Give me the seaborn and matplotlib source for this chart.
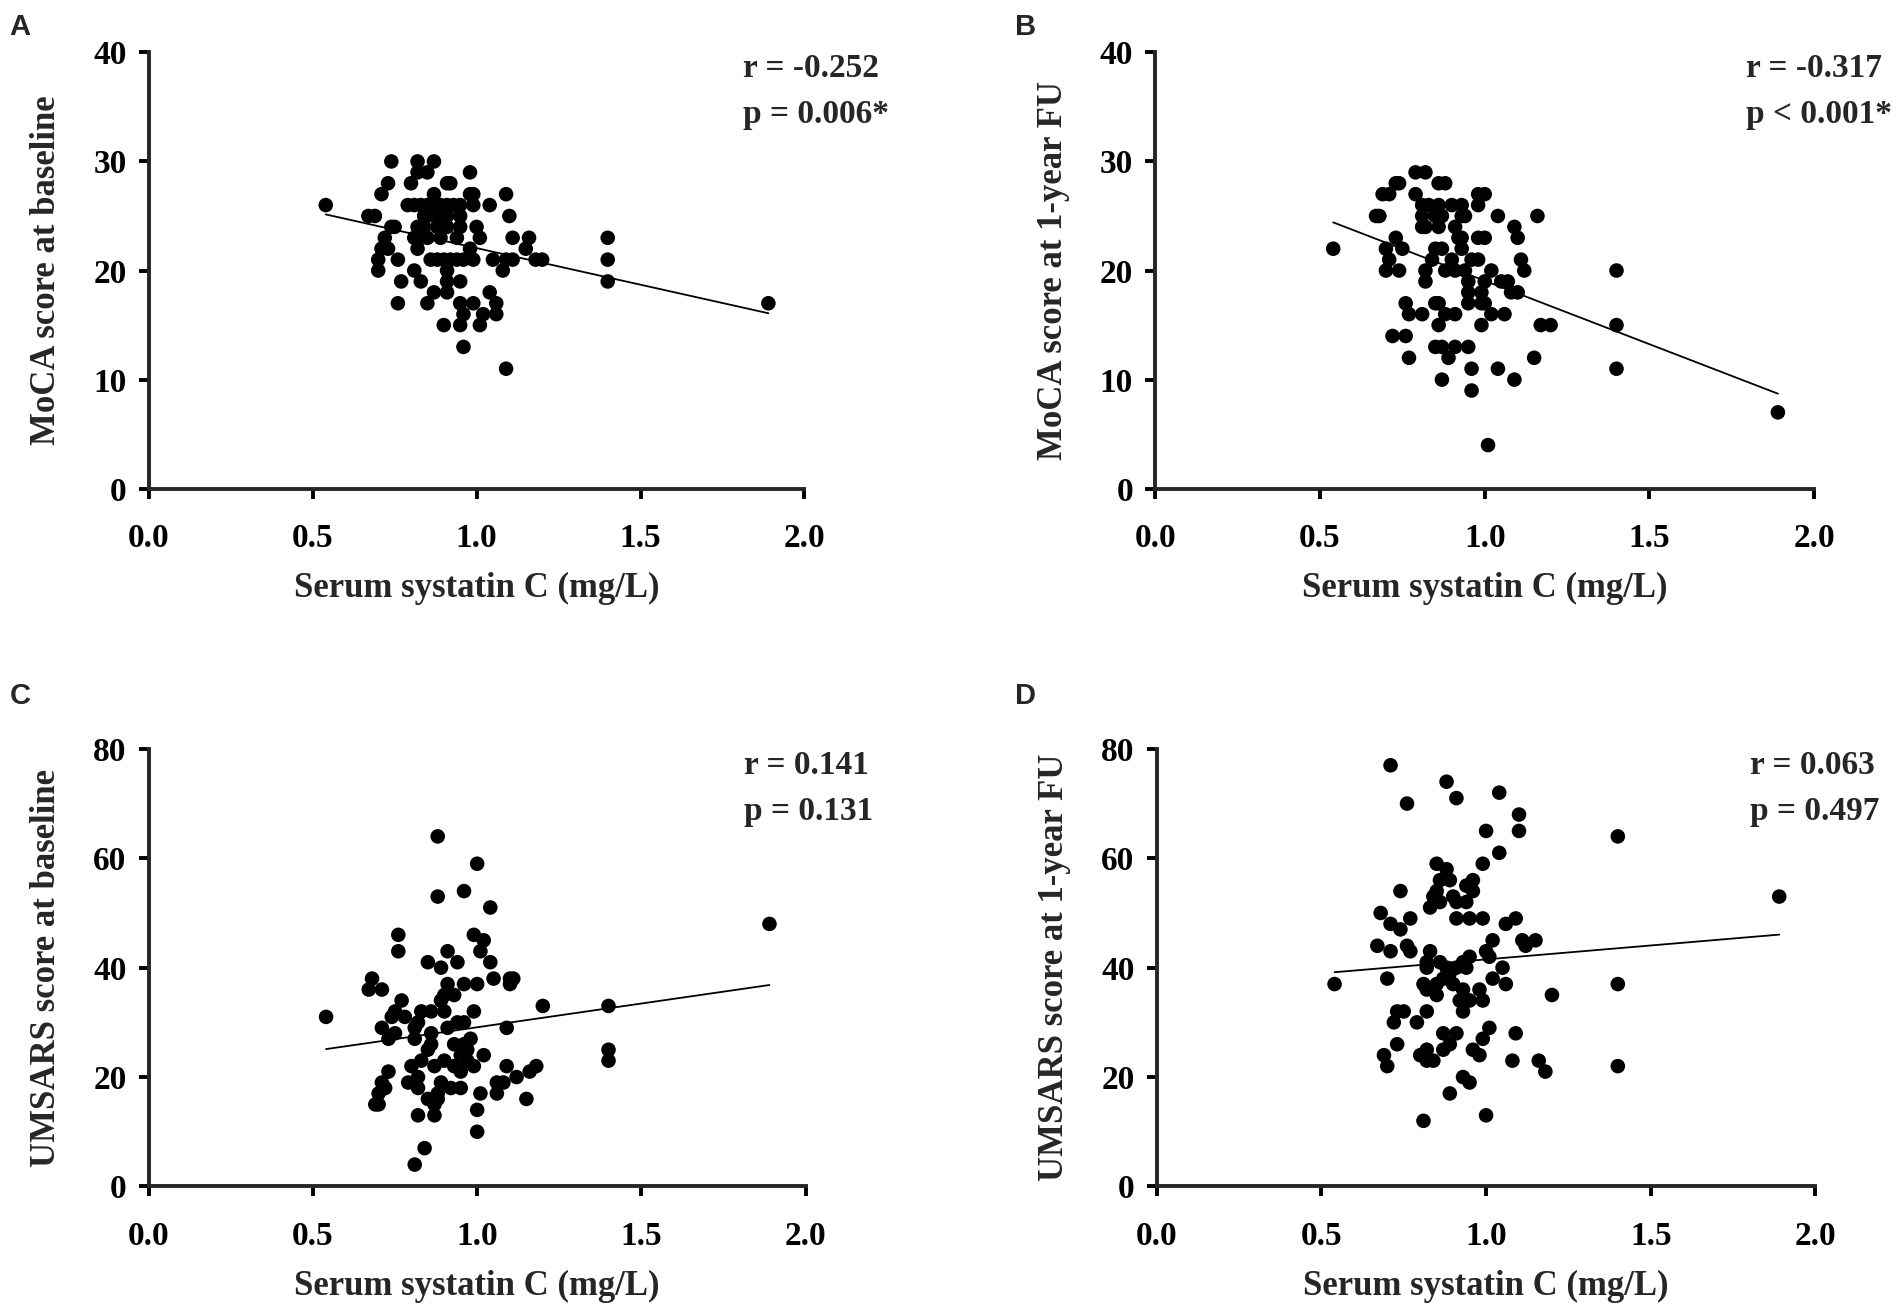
import matplotlib
matplotlib.use("Agg")
import matplotlib.pyplot as plt
import seaborn as sns
import pandas as pd

# Panel A: serum cystatin C vs MoCA at baseline
cys_a = [0.74, 0.82, 0.87,
         0.82, 0.85, 0.98,
         0.73, 0.80, 0.91, 0.92,
         0.71, 0.87, 0.98, 0.99, 1.09,
         0.54, 0.79, 0.81, 0.83, 0.85, 0.87, 0.89, 0.91, 0.93, 0.95, 0.99, 1.04,
         0.67, 0.69, 0.84, 0.85, 0.88, 0.91, 0.95, 1.10,
         0.74, 0.75, 0.82, 0.84, 0.88, 0.91, 0.95, 1.00,
         0.72, 0.81, 0.83, 0.85, 0.89, 0.94, 1.01, 1.11, 1.16, 1.40,
         0.71, 0.73, 0.82, 0.98, 1.15,
         0.70, 0.76, 0.86, 0.88, 0.90, 0.92, 0.94, 0.96, 0.99, 1.05, 1.09, 1.11, 1.18, 1.20, 1.40,
         0.70, 0.81, 0.91, 1.08,
         0.77, 0.83, 0.91, 0.95, 1.40,
         0.87, 0.91, 1.04,
         0.76, 0.85, 0.95, 0.99, 1.06, 1.89,
         0.96, 1.02, 1.06,
         0.90, 0.95, 1.01,
         0.96,
         1.09]
moca_base = [30, 30, 30,
             29, 29, 29,
             28, 28, 28, 28,
             27, 27, 27, 27, 27,
             26, 26, 26, 26, 26, 26, 26, 26, 26, 26, 26, 26,
             25, 25, 25, 25, 25, 25, 25, 25,
             24, 24, 24, 24, 24, 24, 24, 24,
             23, 23, 23, 23, 23, 23, 23, 23, 23, 23,
             22, 22, 22, 22, 22,
             21, 21, 21, 21, 21, 21, 21, 21, 21, 21, 21, 21, 21, 21, 21,
             20, 20, 20, 20,
             19, 19, 19, 19, 19,
             18, 18, 18,
             17, 17, 17, 17, 17, 17,
             16, 16, 16,
             15, 15, 15,
             13,
             11]

# Panel B: serum cystatin C vs MoCA at 1-year FU
cys_b = [0.79, 0.82,
         0.73, 0.74, 0.86, 0.88,
         0.69, 0.71, 0.79, 0.98, 1.00,
         0.81, 0.83, 0.86, 0.90, 0.93, 0.98,
         0.67, 0.68, 0.81, 0.85, 0.87, 0.93, 0.94, 1.04, 1.16,
         0.81, 0.82, 0.86, 0.91, 1.09,
         0.73, 0.92, 0.93, 0.98, 1.00, 1.10,
         0.54, 0.70, 0.75, 0.85, 0.87, 0.93,
         0.71, 0.84, 0.90, 0.96, 0.98, 1.11,
         0.70, 0.74, 0.82, 0.88, 0.91, 0.94, 1.02, 1.12, 1.40,
         0.82, 0.95, 1.00, 1.05, 1.07,
         0.95, 0.99, 1.08, 1.10,
         0.76, 0.85, 0.86, 0.95, 0.99, 1.00,
         0.77, 0.81, 0.88, 0.91, 1.02, 1.06,
         0.86, 0.99, 1.17, 1.20, 1.40,
         0.72, 0.76,
         0.85, 0.87, 0.91, 0.95,
         0.77, 0.89, 1.15,
         0.96, 1.04, 1.40,
         0.87, 1.09,
         0.96,
         1.89,
         1.01]
moca_fu = [29, 29,
           28, 28, 28, 28,
           27, 27, 27, 27, 27,
           26, 26, 26, 26, 26, 26,
           25, 25, 25, 25, 25, 25, 25, 25, 25,
           24, 24, 24, 24, 24,
           23, 23, 23, 23, 23, 23,
           22, 22, 22, 22, 22, 22,
           21, 21, 21, 21, 21, 21,
           20, 20, 20, 20, 20, 20, 20, 20, 20,
           19, 19, 19, 19, 19,
           18, 18, 18, 18,
           17, 17, 17, 17, 17, 17,
           16, 16, 16, 16, 16, 16,
           15, 15, 15, 15, 15,
           14, 14,
           13, 13, 13, 13,
           12, 12, 12,
           11, 11, 11,
           10, 10,
           9,
           7,
           4]

# Panel C: serum cystatin C vs UMSARS at baseline
cys_c = [0.88, 1.00, 0.88, 0.96, 1.04, 0.76, 0.76, 0.99, 1.02, 1.01,
         0.91, 0.85, 0.89, 0.94, 1.04, 0.68, 0.67, 0.71, 0.91, 0.96,
         1.00, 1.05, 1.10, 1.11, 1.10, 0.77, 0.89, 0.93, 0.90, 1.20,
         1.40, 0.75, 0.78, 0.74, 0.83, 0.86, 0.90, 0.99, 0.82, 0.94,
         0.96, 0.91, 0.71, 0.75, 0.81, 1.09, 0.73, 0.81, 0.86, 0.86,
         0.85, 0.98, 0.93, 0.96, 0.97, 0.95, 0.97, 1.02, 1.40, 1.40,
         0.83, 0.80, 0.87, 0.90, 0.93, 0.95, 0.99, 1.09, 0.73, 0.82,
         1.12, 1.16, 1.18, 0.71, 0.79, 0.89, 0.72, 0.82, 0.92, 0.95,
         1.06, 1.08, 1.06, 1.01, 0.70, 0.85, 0.88, 0.88, 1.15, 0.69,
         0.70, 0.87, 1.00, 0.82, 0.87, 1.00, 0.84, 0.81, 1.89, 0.54]
umsars_base = [64, 59, 53, 54, 51, 46, 43, 46, 45, 43,
               43, 41, 40, 41, 41, 38, 36, 36, 37, 37,
               37, 38, 38, 38, 37, 34, 34, 35, 35, 33,
               33, 32, 31, 31, 32, 32, 32, 32, 30, 30,
               30, 29, 29, 28, 29, 29, 27, 27, 28, 26,
               25, 27, 26, 26, 25, 24, 23, 24, 25, 23,
               23, 22, 22, 23, 22, 21, 22, 22, 21, 20,
               20, 21, 22, 19, 19, 19, 18, 18, 18, 18,
               19, 19, 17, 17, 17, 16, 17, 16, 16, 15,
               15, 15, 14, 13, 13, 10, 7, 4, 48, 31]

# Panel D: serum cystatin C vs UMSARS at 1-year FU
cys_d = [0.71, 0.88, 0.91, 0.76, 1.04, 1.10, 1.10, 1.00, 1.40, 1.04,
         0.99, 0.85, 0.88, 0.86, 0.89, 0.96, 0.96, 0.94, 0.85, 0.84,
         0.83, 0.86, 0.90, 0.91, 0.94, 0.74, 0.68, 0.77, 0.71, 0.74,
         0.91, 0.95, 0.99, 1.06, 1.09, 0.67, 0.71, 0.76, 0.77, 1.02,
         1.11, 1.12, 1.15, 0.83, 1.00, 1.01, 0.95, 0.93, 0.86, 0.82,
         0.82, 0.88, 0.91, 0.94, 1.05, 0.70, 1.02, 1.06, 1.40, 1.20,
         0.81, 0.82, 0.85, 0.85, 0.87, 0.89, 0.90, 0.93, 0.98, 0.92,
         0.95, 0.99, 0.93, 0.73, 0.75, 0.82, 0.72, 0.79, 1.01, 0.87,
         0.91, 1.09, 0.99, 0.73, 0.89, 0.87, 0.96, 0.98, 0.69, 0.70,
         0.80, 0.82, 0.84, 0.82, 1.08, 1.16, 1.18, 1.40, 0.93, 0.95,
         0.89, 0.81, 1.00, 1.89, 0.54]
umsars_fu = [77, 74, 71, 70, 72, 68, 65, 65, 64, 61,
             59, 59, 58, 56, 56, 56, 54, 55, 54, 53,
             51, 52, 53, 52, 52, 54, 50, 49, 48, 47,
             49, 49, 49, 48, 49, 44, 43, 44, 43, 45,
             45, 44, 45, 43, 43, 42, 42, 41, 41, 41,
             40, 40, 40, 40, 40, 38, 38, 37, 37, 35,
             37, 36, 37, 35, 38, 39, 37, 36, 36, 34,
             34, 34, 32, 32, 32, 32, 30, 30, 29, 28,
             28, 28, 27, 26, 26, 25, 25, 24, 24, 22,
             24, 25, 23, 23, 23, 23, 21, 22, 20, 19,
             17, 12, 13, 53, 37]

x_label = "Serum systatin C (mg/L)"
x_ticks = [0.0, 0.5, 1.0, 1.5, 2.0]

panels = [
    ("A", cys_a, moca_base, "MoCA score at baseline", 40, 10, "r = -0.252", "p = 0.006*"),
    ("B", cys_b, moca_fu, "MoCA score at 1-year FU", 40, 10, "r = -0.317", "p < 0.001*"),
    ("C", cys_c, umsars_base, "UMSARS score at baseline", 80, 20, "r = 0.141", "p = 0.131"),
    ("D", cys_d, umsars_fu, "UMSARS score at 1-year FU", 80, 20, "r = 0.063", "p = 0.497"),
]

# axes boxes in figure fractions [left, bottom, width, height]
boxes = {
    "A": [0.0781, 0.6275, 0.3444, 0.3326],
    "B": [0.6068, 0.6275, 0.3460, 0.3326],
    "C": [0.0781, 0.0957, 0.3450, 0.3335],
    "D": [0.6075, 0.0957, 0.3460, 0.3335],
}
letter_pos = {"A": (0.005, 0.990), "B": (0.533, 0.990), "C": (0.005, 0.480), "D": (0.533, 0.480)}
text_x = {"A": 0.906, "B": 0.897, "C": 0.906, "D": 0.901}

sns.set_style("ticks")
plt.rcParams["font.family"] = ["Liberation Serif", "DejaVu Serif"]
plt.rcParams["font.weight"] = "bold"

fig = plt.figure(figsize=(19.04, 13.12), dpi=100)

for letter, xs, ys, ylab, ymax, ystep, r_txt, p_txt in panels:
    df = pd.DataFrame({"cys": xs, "score": ys})
    ax = fig.add_axes(boxes[letter])
    sns.scatterplot(data=df, x="cys", y="score", ax=ax, s=110, color="black",
                    edgecolor="none", linewidth=0, zorder=3, clip_on=False)
    sns.regplot(data=df, x="cys", y="score", ax=ax, scatter=False, ci=None,
                truncate=True, line_kws={"color": "black", "linewidth": 1.3})

    ax.set_xlim(0, 2.0)
    ax.set_ylim(0, ymax)
    ax.set_xticks(x_ticks)
    ax.set_xticklabels([f"{t:.1f}" for t in x_ticks])
    ax.set_yticks(range(0, ymax + 1, ystep))
    sns.despine(ax=ax)
    for side in ["left", "bottom"]:
        ax.spines[side].set_linewidth(2.8)
    ax.tick_params(axis="both", direction="out", length=7, width=2.8,
                   labelsize=24, colors="black")
    ax.tick_params(axis="x", pad=18)
    ax.tick_params(axis="y", pad=9)
    for lab in ax.get_xticklabels() + ax.get_yticklabels():
        lab.set_fontweight("bold")

    ax.set_xlabel(x_label, fontsize=25, fontweight="bold")
    ax.set_ylabel(ylab, fontsize=25, fontweight="bold")
    ax.xaxis.set_label_coords(0.5, -0.19)
    ax.yaxis.set_label_coords(-0.13, 0.5)

    tx = text_x[letter]
    ax.text(tx, 0.962, r_txt, transform=ax.transAxes, ha="left", va="center",
            fontsize=24, fontweight="bold", clip_on=False)
    ax.text(tx, 0.858, p_txt, transform=ax.transAxes, ha="left", va="center",
            fontsize=24, fontweight="bold", clip_on=False)

    lx, ly = letter_pos[letter]
    fig.text(lx, ly, letter, ha="left", va="top", fontsize=21, fontweight="bold",
             family="Liberation Sans")

fig.savefig("out.png", dpi=100)
